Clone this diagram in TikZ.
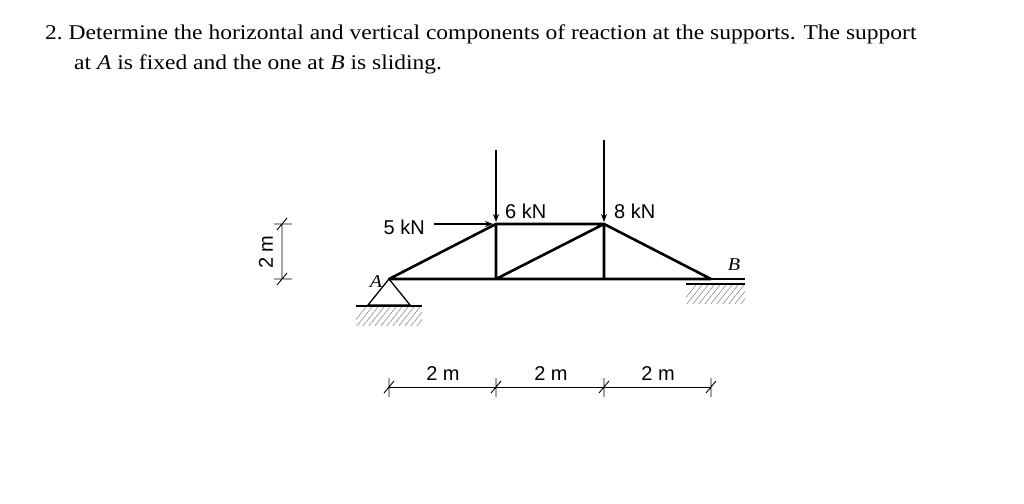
\documentclass[tikz,border=0pt]{standalone}
\usepackage{fontspec}
\setmainfont{Liberation Serif}[FakeStretch=1.12]
\newfontfamily\lab{Liberation Sans}
\usetikzlibrary{arrows.meta}
\begin{document}
\begin{tikzpicture}[x=1pt,y=-1pt,
 mem/.style={line width=2.6pt,line cap=round,line join=round},
 force/.style={line width=1.2pt,-{Stealth[length=8pt,width=6pt]}},
 dim/.style={line width=0.9pt},
 hat/.style={line width=0.5pt,gray},
 lbl/.style={font=\lab\fontsize{20}{20}\selectfont,inner sep=0pt},
 ttl/.style={font=\fontsize{21}{24}\selectfont,inner sep=0pt,anchor=base west}]
\useasboundingbox (0,0) rectangle (1024,503);
\node[ttl] (t1) at (45,40) {2.\ Determine the horizontal and vertical components of reaction at the supports. The support};
\node[ttl] (t2) at (74,69) {at \textit{A} is fixed and the one at \textit{B} is sliding.};
% joints
\coordinate (A) at (389,279);
\coordinate (C) at (496,279);
\coordinate (D) at (604,279);
\coordinate (B) at (711,279);
\coordinate (E) at (496,224);
\coordinate (F) at (604,224);
\draw[mem] (A)--(B) (A)--(E)--(F)--(B) (E)--(C) (C)--(F)--(D);
% forces
\coordinate (f6) at (496,150);
\coordinate (f8) at (604,140);
\coordinate (f5) at (434,224);
\draw[force] (f6)--(496,222);
\draw[force] (f8)--(604,222);
\draw[force] (f5)--(493,224);
\node[lbl,anchor=west] (l6) at (505,211) {6 kN};
\node[lbl,anchor=west] (l8) at (614,211) {8 kN};
\node[lbl,anchor=east] (l5) at (425,227) {5 kN};
% support A
\draw[line width=1.3pt] (A)--(368,305)--(410,305)--cycle;
\draw[line width=1.3pt] (356,306)--(422,306);
\begin{scope}
\clip (356,307) rectangle (422,325);
\foreach \x in {350,356,...,430} \draw[hat] (\x,327)--(\x+16,307);
\end{scope}
\node[font=\fontsize{18}{18}\selectfont\itshape,inner sep=0pt] (la) at (376,282) {A};
% support B
\draw[line width=1.3pt] (B)--(745,279);
\draw[line width=1.3pt] (686,284)--(745,284);
\begin{scope}
\clip (686,285) rectangle (745,303);
\foreach \x in {680,686,...,750} \draw[hat] (\x,305)--(\x+16,285);
\end{scope}
\node[font=\fontsize{18}{18}\selectfont\itshape,inner sep=0pt] (lb) at (734,265) {B};
% vertical dimension
\draw[dim] (282,224)--(282,279) (274,224)--(292,224) (274,279)--(292,279)
 (277,230)--(287,218) (277,285)--(287,273);
\node[lbl,rotate=90] (lv) at (266,252) {2 m};
% horizontal dimension
\draw[dim] (389,387)--(711,387);
\foreach \x in {389,496,604,711}{
 \draw[dim] (\x,378)--(\x,397) (\x-5,393)--(\x+5,381);}
\node[lbl] (h1) at (443,374) {2 m};
\node[lbl] (h2) at (551,374) {2 m};
\node[lbl] (h3) at (658,374) {2 m};
\end{tikzpicture}
\end{document}
